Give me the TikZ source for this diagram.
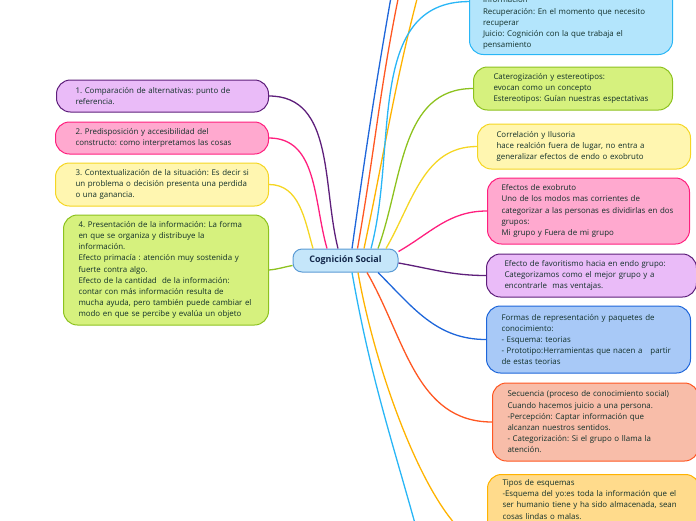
\documentclass[tikz,border=0pt]{standalone}
\usepackage{fontspec}
\setmainfont{Open Sans}
\frenchspacing

\definecolor{txt}{HTML}{12302A}
\definecolor{rootT}{HTML}{14284B}
\definecolor{rootF}{HTML}{C5E6FA}
\definecolor{rootD}{HTML}{5B9BD5}
\definecolor{lblueF}{HTML}{B3E5FC}
\definecolor{lblueD}{HTML}{29B6F6}
\definecolor{greenF}{HTML}{D6F17E}
\definecolor{greenD}{HTML}{8DC21F}
\definecolor{yellowF}{HTML}{FFF6B0}
\definecolor{yellowD}{HTML}{F5D623}
\definecolor{pinkF}{HTML}{FFA9CF}
\definecolor{pinkD}{HTML}{FF1F7E}
\definecolor{purpleF}{HTML}{EABBF8}
\definecolor{purpleD}{HTML}{5E1F7B}
\definecolor{blueF}{HTML}{A8C9F7}
\definecolor{blueD}{HTML}{1E66DA}
\definecolor{redF}{HTML}{F8BDA9}
\definecolor{redD}{HTML}{FF5722}
\definecolor{orangeF}{HTML}{FFDB8C}
\definecolor{orangeD}{HTML}{FFB300}

\begin{document}
\begin{tikzpicture}[x=1pt,y=1pt,
    idea/.style={draw, line width=1pt, rounded corners=14pt, anchor=west, align=left,
      inner ysep=5pt, text=txt, font=\fontsize{7.9}{11.2}\selectfont,
      execute at begin node={\rightskip=-40pt plus 1fil}},
    root/.style={draw=rootD, fill=rootF, line width=1pt, rounded corners=9pt,
      minimum width=105pt, minimum height=23pt, text=rootT,
      font=\bfseries\fontsize{9}{10}\selectfont},
    link/.style={line width=1.3pt}]
    \useasboundingbox (0,0) rectangle (696,-520);
    \clip (0,0) rectangle (696,-520);

    % Central topic
    \node[root] (c) at (345.5,-260.5) {Cognición Social};

    % Left ideas
    \node[idea, draw=purpleD, fill=purpleF, minimum height=32pt, text width=174pt, inner xsep=19pt] (alt) at (56,-96)
        {1. Comparación de alternativas: punto de\\referencia.};
    \node[idea, draw=pinkD, fill=pinkF, minimum height=32pt, text width=173pt, inner xsep=20pt] (pred) at (55,-138)
        {2. Predisposición y accesibilidad del\\constructo: como interpretamos las cosas};
    \node[idea, draw=yellowD, fill=yellowF, minimum height=43pt, text width=173pt, inner xsep=20pt] (ctx) at (55,-184.5)
        {3. Contextualización de la situación: Es decir si\\un problema o decisión presenta una perdida\\o una ganancia.};
    \node[idea, draw=greenD, fill=greenF, minimum height=110pt, text width=175pt, inner xsep=15pt] (pres) at (63,-270)
        {4. Presentación de la información: La forma\\en que se organiza y distribuye la\\información.\\Efecto primacía : atención muy sostenida y\\fuerte contra algo.\\Efecto de la cantidad~ de la información:\\contar con más información resulta de\\mucha ayuda, pero también puede cambiar el\\modo en que se percibe y evalúa un objeto};

    % Right ideas
    \node[idea, anchor=south west, draw=lblueD, fill=lblueF, text width=176pt, inner xsep=13.5pt] (rec) at (469,-55)
        {\mbox{}\\[38pt]información\\Recuperación: En el momento que necesito\\recuperar\\Juicio: Cognición con la que trabaja el\\pensamiento};
    \node[idea, draw=greenD, fill=greenF, minimum height=43pt, text width=159pt, inner xsep=20pt] (cat) at (473,-88.5)
        {Caterogización y estereotipos:\\evocan como un concepto\\Estereotipos: Guían nuestras espectativas};
    \node[idea, draw=yellowD, fill=yellowF, minimum height=45pt, text width=175pt, inner xsep=19pt] (corr) at (477,-146.5)
        {Correlación y Ilusoria\\hace realción fuera de lugar, no entra a\\generalizar efectos de endo o exobruto};
    \node[idea, draw=pinkD, fill=pinkF, minimum height=66pt, text width=174pt, inner xsep=14pt] (exo) at (487,-211)
        {Efectos de exobruto\\Uno de los modos mas corrientes de\\categorizar a las personas es dividirlas en dos\\grupos:\\Mi grupo y Fuera de mi grupo};
    \node[idea, draw=purpleD, fill=purpleF, minimum height=43pt, text width=174pt, inner xsep=18pt] (fav) at (486,-275.5)
        {Efecto de favoritismo hacia en endo grupo:\\Categorizamos como el mejor grupo y a\\encontrarle~ mas ventajas.};
    \node[idea, draw=blueD, fill=blueF, minimum height=67pt, text width=174pt, inner xsep=15pt] (form) at (486,-339.5)
        {Formas de representación y paquetes de\\conocimiento:\\- Esquema: teorias\\- Prototipo:Herramientas que nacen a~~ partir\\de estas teorias};
    \node[idea, draw=redD, fill=redF, minimum height=78pt, text width=176pt, inner xsep=15pt] (sec) at (492,-422)
        {Secuencia (proceso de conocimiento social)\\Cuando hacemos juicio a una persona.\\-Percepción: Captar información que\\alcanzan nuestros sentidos.\\- Categorización: Si el grupo o llama la\\atención.};
    \node[idea, anchor=north west, draw=orangeD, fill=orangeF, text width=182pt, inner xsep=15pt] (tipos) at (487,-474)
        {Tipos de esquemas\\-Esquema del yo:es toda la información que el\\ser humanio tiene y ha sido almacenada, sean\\cosas lindas o malas.\\[78pt]\mbox{}};

    % Ends of branches off the page
    \coordinate (up1) at (394,20);
    \coordinate (up2) at (402,20);
    \coordinate (up3) at (422,20);
    \coordinate (dn1) at (425,-560);

    % Left links
    \draw[link, purpleD] (alt.east) to[out=0,in=104] ([xshift=-7.5pt]c.north);
    \draw[link, pinkD] (pred.east) to[out=0,in=106] ([xshift=-18.5pt]c.north);
    \draw[link, yellowD] (ctx.east) to[out=0,in=106] ([xshift=-32.5pt]c.north);
    \draw[link, greenD] (pres.east) to[out=5,in=190] ([yshift=-5pt]c.west);

    % Right links
    \draw[link, blueD] ([xshift=6.5pt]c.north) to[out=82,in=-100] (up1);
    \draw[link, redD] ([xshift=12pt]c.north) to[out=80,in=-102] (up2);
    \draw[link, orangeD] ([xshift=18.5pt]c.north) to[out=78,in=-105] (up3);
    \draw[link, lblueD] ([xshift=25.5pt]c.north) to[out=75,in=180] (rec.west);
    \draw[link, greenD] ([xshift=32.5pt]c.north) to[out=70,in=180] (cat.west);
    \draw[link, yellowD] ([xshift=40.5pt]c.north) to[out=60,in=180] (corr.west);
    \draw[link, pinkD] ([yshift=-3pt]c.north east) to[out=30,in=180] (exo.west);
    \draw[link, purpleD] ([yshift=-2.5pt]c.east) to[out=-10,in=180] (fav.west);
    \draw[link, blueD] ([xshift=32.5pt]c.south) to[out=-45,in=180] (form.west);
    \draw[link, redD] ([xshift=21.5pt]c.south) to[out=-60,in=180] (sec.west);
    \draw[link, orangeD] ([xshift=12.5pt]c.south) to[out=-80,in=180,in looseness=0.4] (tipos.west);
    \draw[link, lblueD] ([xshift=6.5pt]c.south) to[out=-80,in=105] (dn1);
\end{tikzpicture}
\end{document}
